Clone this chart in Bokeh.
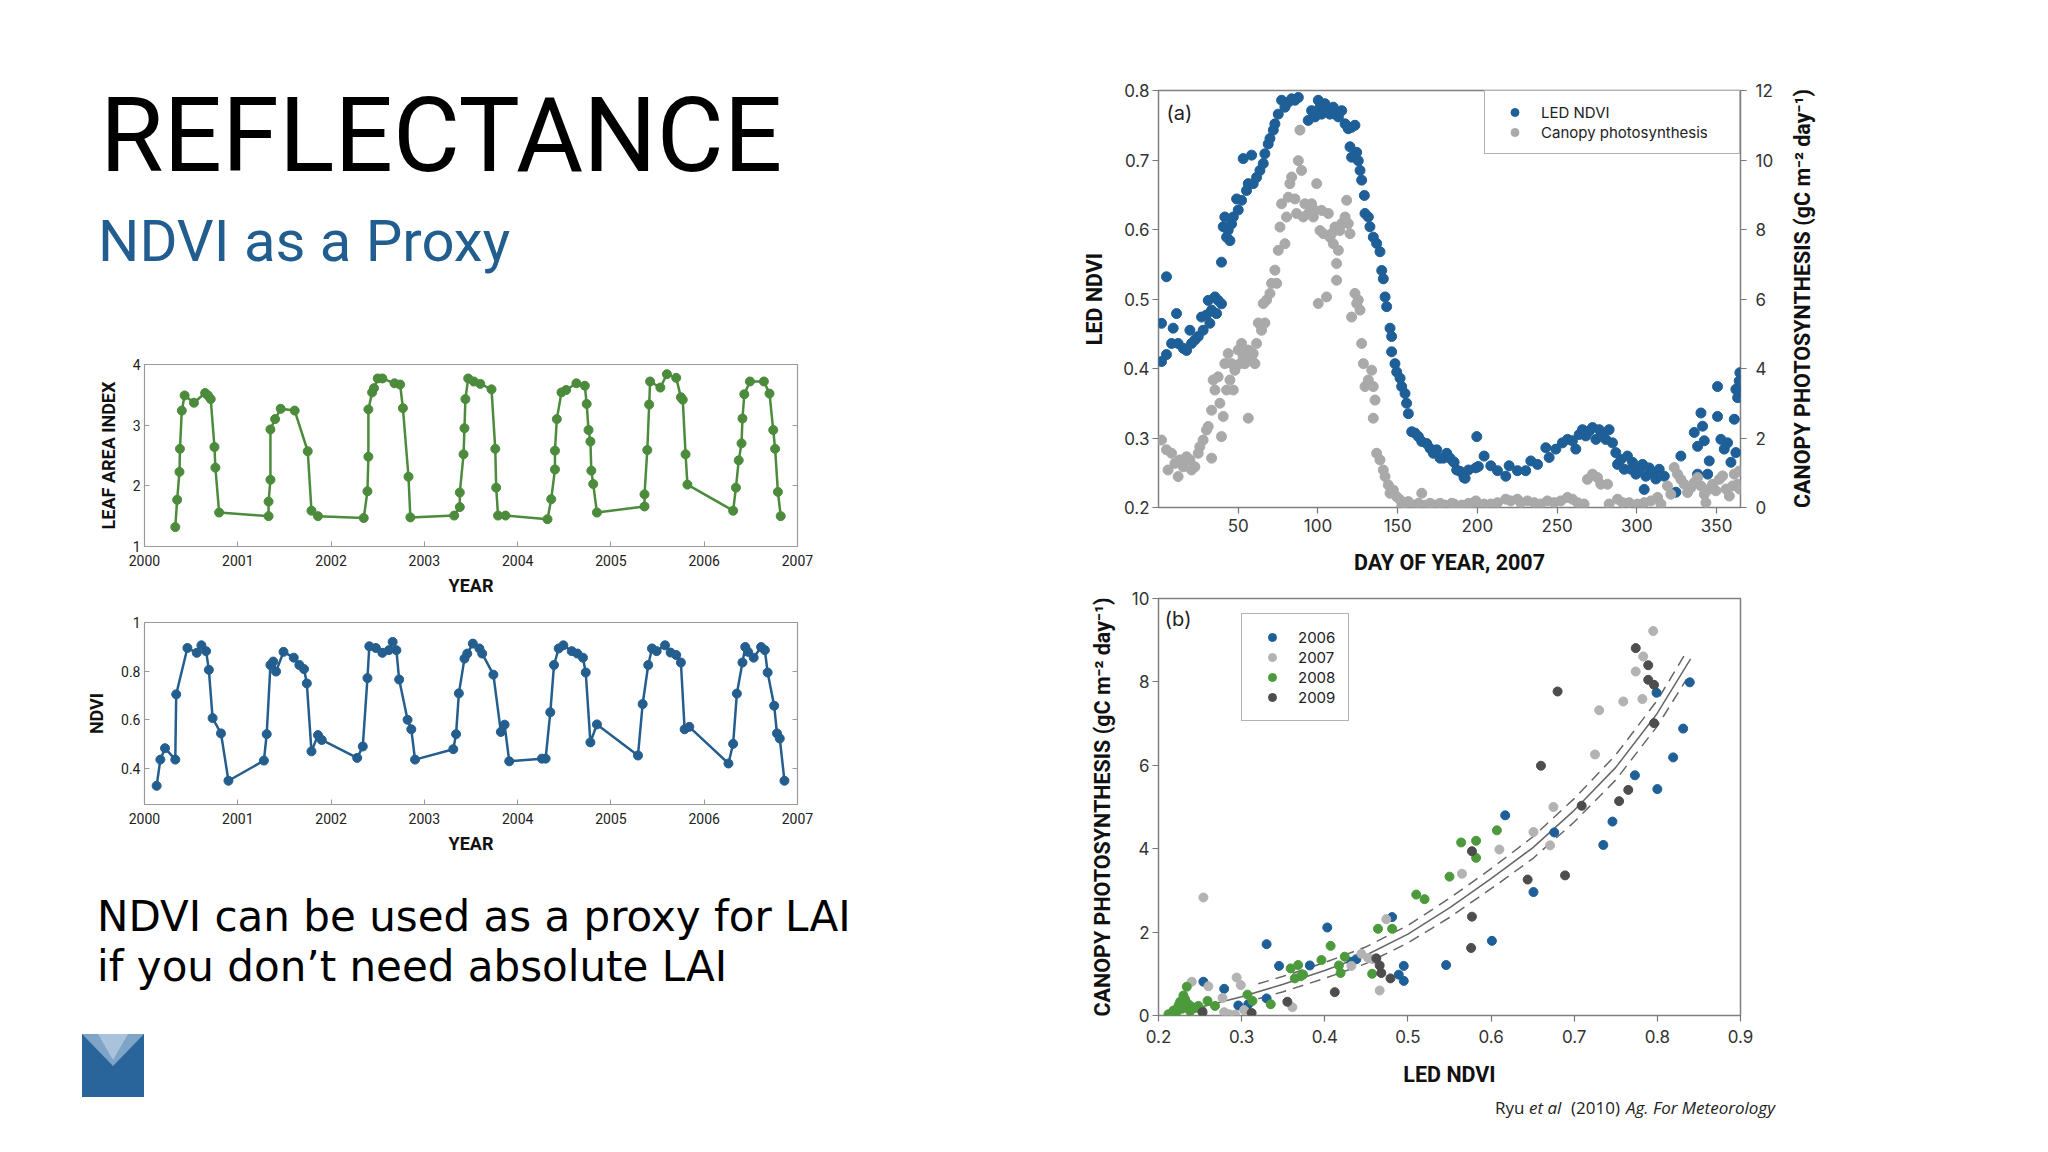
from bokeh.plotting import figure
from bokeh.models import (Range1d, LinearAxis, FixedTicker, Label, Legend, LegendItem,
                          CustomJSTickFormatter, Div)
from bokeh.layouts import column, row
from bokeh.embed import file_html
from bokeh.resources import INLINE

# ---------------------------------------------------------------- data
# MODIS-style time series, 2000-2007
lai_year = [2000.33, 2000.35, 2000.375, 2000.38, 2000.40, 2000.43, 2000.53, 2000.65, 2000.68, 2000.71, 2000.75, 2000.76, 2000.80,
            2001.33, 2001.33, 2001.35, 2001.35, 2001.40, 2001.46, 2001.61, 2001.75, 2001.79, 2001.86,
            2002.35, 2002.39, 2002.40, 2002.40, 2002.44, 2002.46, 2002.50, 2002.55, 2002.68, 2002.74, 2002.77, 2002.83, 2002.85,
            2003.32, 2003.38, 2003.38, 2003.42, 2003.43, 2003.44, 2003.47, 2003.53, 2003.60, 2003.72, 2003.76, 2003.77, 2003.79, 2003.87,
            2004.32, 2004.36, 2004.40, 2004.40, 2004.42, 2004.47, 2004.52, 2004.63, 2004.72, 2004.74, 2004.76, 2004.78, 2004.79, 2004.81, 2004.85,
            2005.36, 2005.36, 2005.39, 2005.41, 2005.42, 2005.53, 2005.60, 2005.70, 2005.75, 2005.77, 2005.80, 2005.82,
            2006.31, 2006.34, 2006.37, 2006.40, 2006.41, 2006.43, 2006.49, 2006.64, 2006.70, 2006.74, 2006.76, 2006.79, 2006.82]
lai_value = [1.32, 1.77, 2.23, 2.61, 3.24, 3.49, 3.37, 3.53, 3.49, 3.43, 2.64, 2.30, 1.56,
             1.50, 1.74, 2.10, 2.93, 3.10, 3.27, 3.24, 2.57, 1.59, 1.50,
             1.47, 1.91, 2.48, 3.26, 3.54, 3.61, 3.77, 3.77, 3.69, 3.67, 3.28, 2.15, 1.48,
             1.51, 1.65, 1.89, 2.52, 2.95, 3.43, 3.77, 3.72, 3.68, 3.59, 2.61, 1.97, 1.51, 1.51,
             1.45, 1.78, 2.27, 2.58, 3.10, 3.54, 3.58, 3.69, 3.65, 3.35, 2.92, 2.73, 2.25, 2.03, 1.56,
             1.66, 1.86, 2.59, 3.34, 3.72, 3.62, 3.84, 3.78, 3.46, 3.42, 2.52, 2.02,
             1.59, 1.97, 2.42, 2.70, 3.11, 3.51, 3.72, 3.72, 3.52, 2.92, 2.61, 1.90, 1.50]

ndvi_year = [2000.13, 2000.17, 2000.22, 2000.33, 2000.34, 2000.46, 2000.56, 2000.61, 2000.66, 2000.69, 2000.73, 2000.82, 2000.90,
             2001.28, 2001.31, 2001.35, 2001.38, 2001.41, 2001.49, 2001.60, 2001.66, 2001.71, 2001.74, 2001.79, 2001.86, 2001.90,
             2002.28, 2002.34, 2002.39, 2002.41, 2002.48, 2002.55, 2002.62, 2002.66, 2002.70, 2002.73, 2002.82, 2002.86, 2002.90,
             2003.31, 2003.34, 2003.37, 2003.43, 2003.46, 2003.52, 2003.59, 2003.62, 2003.74, 2003.82, 2003.86, 2003.91,
             2004.26, 2004.30, 2004.35, 2004.39, 2004.44, 2004.49, 2004.58, 2004.64, 2004.70, 2004.73, 2004.78, 2004.85,
             2005.29, 2005.34, 2005.40, 2005.44, 2005.49, 2005.58, 2005.64, 2005.70, 2005.75, 2005.79, 2005.84,
             2006.26, 2006.31, 2006.35, 2006.41, 2006.44, 2006.47, 2006.53, 2006.61, 2006.65, 2006.68, 2006.75, 2006.78, 2006.81, 2006.86]
ndvi_value = [0.327, 0.435, 0.482, 0.435, 0.704, 0.895, 0.875, 0.906, 0.882, 0.805, 0.606, 0.543, 0.348,
              0.431, 0.540, 0.825, 0.839, 0.798, 0.879, 0.855, 0.825, 0.808, 0.749, 0.469, 0.536, 0.516,
              0.442, 0.489, 0.771, 0.902, 0.895, 0.875, 0.886, 0.920, 0.886, 0.765, 0.599, 0.560, 0.435,
              0.478, 0.540, 0.708, 0.851, 0.872, 0.913, 0.893, 0.872, 0.785, 0.549, 0.579, 0.428,
              0.439, 0.439, 0.630, 0.825, 0.893, 0.906, 0.882, 0.872, 0.855, 0.794, 0.506, 0.580,
              0.452, 0.664, 0.825, 0.893, 0.882, 0.906, 0.876, 0.866, 0.835, 0.560, 0.570,
              0.419, 0.500, 0.707, 0.835, 0.899, 0.879, 0.855, 0.899, 0.886, 0.794, 0.657, 0.543, 0.522, 0.348]

year_ticks = [2000, 2001, 2002, 2003, 2004, 2005, 2006, 2007]
lai_ticks = [1, 2, 3, 4]
ndvi_ticks = [0.4, 0.6, 0.8, 1.0]

# (a) daily LED NDVI and canopy photosynthesis, 2007
led_day = [1.9, 1.9, 5, 5, 8.2, 9.2, 11.3, 12.3, 15.5, 17.6,
           19.7, 20.7, 22.8, 24.9, 27, 28, 30.1, 31.2, 32.2, 33.3,
           35.4, 36.4, 37.4, 39.5, 39.5, 40.6, 41.6, 42.7, 43.7, 44.8,
           45.8, 46.9, 49, 50, 52.1, 53.1, 55.2, 56.3, 58.4, 59.4,
           61.5, 63.6, 65.7, 66.7, 68.8, 69.9, 72, 73, 75.1, 77.2,
           79.3, 81.4, 83.5, 85.6, 87.7, 93.9, 96, 98.1, 100.2, 101.3,
           102.3, 104.4, 105.4, 107.5, 109.6, 110.7, 112.8, 114.9, 117, 119,
           121.1, 123.2, 120.1, 121.1, 124.3, 125.3, 126.4, 127.4, 129.1, 129.5,
           131.6, 132.6, 134.7, 136.8, 138.9, 140, 141, 142.1, 143.1, 145.2,
           146.2, 146.2, 148.3, 149.4, 151.5, 152.5, 154.6, 155.6, 156.7, 158.8,
           160.9, 163, 165.1, 168.2, 170.3, 172.4, 174.5, 176.6, 178.7, 180.8,
           182.8, 184.9, 187, 189.1, 192.3, 194.4, 199.6, 200.6,
           185.4, 191.6, 199, 204.2, 208.4, 212.6, 217.8, 219.9, 225.1, 230.3,
           233.5, 237.7, 242.9, 245, 249.2, 253.3, 256.5, 259.6, 261.7, 263.8,
           265.9, 268, 270.1, 272.2, 274.3, 276.4, 278.5, 280.5, 282.6, 284.7,
           286.8, 287.9, 290, 292.1, 294.1, 296.2, 297.3, 299.4, 301.5, 303.6,
           305.6, 307.7, 309.8, 304.6, 311.9, 314, 317.2, 324.5, 327.6, 336,
           338.1, 340.2, 341.2, 342.3, 338.1, 344.4, 345.4, 350.6, 350.6, 352.7,
           354.8, 356.9, 359, 361.1, 362.1, 362.1, 363.2, 364.2, 364.6, 364.3]
led_ndvi = [.410, .465, .532, .420, .436, .458, .479, .436, .429, .426,
            .455, .436, .441, .446, .474, .455, .477, .498, .465, .484,
            .503, .479, .498, .493, .553, .604, .618, .589, .599, .584,
            .608, .618, .644, .628, .642, .702, .656, .666, .707, .666,
            .675, .685, .695, .709, .723, .731, .743, .752, .766, .786,
            .776, .783, .788, .786, .790, .757, .771, .762, .786, .776,
            .766, .781, .771, .766, .776, .766, .762, .771, .752, .745,
            .747, .750, .719, .704, .711, .699, .685, .671, .649, .623,
            .618, .604, .589, .580, .568, .541, .529, .503, .489, .458,
            .446, .424, .407, .395, .386, .374, .364, .350, .335, .309,
            .307, .302, .295, .292, .285, .278, .283, .271, .271, .278,
            .271, .266, .254, .252, .242, .254, .302, .259,
            .265, .243, .257, .274, .260, .253, .245, .260, .253, .253,
            .267, .262, .286, .272, .284, .293, .298, .296, .284, .305,
            .312, .303, .310, .315, .298, .312, .305, .298, .312, .293,
            .279, .262, .269, .255, .274, .255, .265, .248, .255, .262,
            .245, .257, .250, .226, .241, .255, .245, .222, .274, .308,
            .288, .336, .317, .296, .248, .248, .267, .374, .331, .298,
            .284, .293, .265, .327, .279, .370, .358, .382, .394, .367]

gpp_day = [1.9, 5, 6, 8.2, 10.3, 12.3, 13.4, 15.5, 17.6, 19.7,
           20.7, 22.8, 24.9, 25.9, 28, 30.1, 33.3, 31.2, 33.3, 34.3,
           35.4, 37.4, 38.5, 39.5, 40.6, 41.6, 42.7, 43.7, 44.8, 45.8,
           46.9, 47.9, 50, 51, 52.1, 53.1, 54.2, 56.3, 56.3, 58.4,
           59.4, 60.5, 61.5, 62.6, 64.6, 65.7, 66.7, 67.8, 69.9, 70.9,
           73, 74.1, 75.1, 76.2, 77.2, 79.3, 80.3, 81.4, 82.4, 83.5,
           85.6, 86.6, 87.7, 88.7, 89.7, 90.8, 91.8, 93.9, 95, 96,
           97.1, 98.1, 99.2, 100.2, 101.3, 102.3, 103.4, 105.4, 106.5, 107.5,
           108.6, 109.6, 110.7, 111.7, 111.7, 112.8, 113.8, 114.9, 117, 118,
           119, 120.1, 121.1, 123.2, 124.3, 125.3, 126.4, 127.4, 128.5, 129.5,
           131.6, 133.7, 134.7, 135.8, 134.7, 136.8, 138.9, 141, 142.1, 144.1,
           145.2, 147.3, 149.4, 151.5, 152.5, 154.6, 156.7, 159.8, 163, 165.1,
           167.2, 170.3, 173.4, 176.6, 179.7, 183.9, 186, 190.2, 194.4, 198.5,
           185.4, 191.6, 199, 204.2, 208.4, 212.6, 217.8, 220.9, 225.1, 227.2,
           231.4, 235.6, 239.7, 243.9, 248.1, 252.3, 256.5, 259.6, 262.8, 266.9,
           269, 272.2, 275.3, 277.4, 281.6, 282.6, 287.9, 291, 295.2, 300.4,
           304.6, 308.8, 313, 315.1, 319.2, 321.3, 323.4, 325.5, 327.6, 329.7,
           331.8, 333.9, 336, 338.1, 340.2, 342.3, 343.3, 345.4, 347.5, 349.6,
           351.7, 353.8, 355.9, 358, 360, 361.1, 363.2, 364.2, 364.5]
gpp_value = [1.94, 1.66, 1.08, 1.56, 1.27, 0.89, 1.37, 1.17, 1.46, 1.37,
             1.08, 1.17, 1.56, 1.75, 1.94, 2.23, 1.42, 2.33, 2.80, 3.67,
             3.38, 3.76, 3.00, 2.04, 2.62, 4.14, 3.38, 4.43, 3.67, 4.14,
             3.38, 3.95, 4.53, 4.14, 4.72, 4.34, 4.14, 2.57, 4.53, 4.34,
             4.43, 4.14, 4.72, 5.31, 5.10, 5.87, 5.31, 5.97, 6.16, 6.45,
             6.83, 6.45, 7.40, 8.07, 8.74, 7.59, 8.36, 8.93, 9.32, 9.51,
             8.88, 8.46, 9.98, 10.86, 9.70, 8.36, 8.74, 8.46, 8.65, 8.74,
             8.36, 8.55, 9.32, 5.87, 7.97, 8.55, 7.88, 6.06, 8.46, 7.78,
             7.88, 7.59, 8.07, 7.02, 6.54, 7.40, 7.97, 8.17, 8.36, 8.84,
             8.17, 7.88, 5.48, 6.16, 5.87, 5.97, 5.68, 4.72, 4.14, 3.48,
             3.67, 3.95, 3.48, 3.09, 2.57, 1.56, 1.37, 1.08, 0.89, 0.65,
             0.41, 0.50, 0.31, 0.22, 0.03, 0.12, 0.17, 0.07, 0.12, 0.41,
             0.07, 0.12, 0.07, 0.12, 0.07, 0.12, 0.03, 0.07, 0.12, 0.07,
             0.10, 0.05, 0.19, 0.10, 0.10, 0.14, 0.24, 0.19, 0.24, 0.14,
             0.19, 0.14, 0.10, 0.19, 0.14, 0.19, 0.29, 0.24, 0.14, 0.10,
             0.81, 0.96, 0.86, 0.67, 0.67, 0.10, 0.24, 0.14, 0.14, 0.10,
             0.14, 0.19, 0.29, 0.10, 0.62, 0.38, 1.15, 0.96, 0.81, 0.67,
             0.43, 0.57, 0.72, 0.86, 0.62, 0.38, 0.14, 0.53, 0.67, 0.48,
             0.81, 0.91, 0.53, 0.33, 0.62, 0.96, 0.67, 1.05, 0.53]

doy_ticks = [50, 100, 150, 200, 250, 300, 350]
led_ticks = [0.2, 0.3, 0.4, 0.5, 0.6, 0.7, 0.8]
gpp_ticks = [0, 2, 4, 6, 8, 10, 12]

# (b) canopy photosynthesis against LED NDVI, by year
y2006_ndvi = [0.254, 0.279, 0.296, 0.308, 0.330, 0.330, 0.345, 0.382, 0.403, 0.432, 0.438, 0.481, 0.489, 0.495,
              0.495, 0.546, 0.601, 0.617, 0.651, 0.676, 0.735, 0.746, 0.773, 0.800, 0.819, 0.831, 0.799, 0.839]
y2006_gpp = [0.81, 0.64, 0.24, 0.27, 1.71, 0.41, 1.19, 1.20, 2.11, 1.29, 1.35, 2.36, 0.98, 1.19,
             0.83, 1.21, 1.79, 4.80, 2.96, 4.39, 4.09, 4.65, 5.76, 5.43, 6.19, 6.88, 7.74, 7.99]
y2007_ndvi = [0.240, 0.254, 0.260, 0.277, 0.279, 0.285, 0.294, 0.299, 0.303, 0.361, 0.432, 0.444, 0.452, 0.458, 0.466,
              0.474, 0.565, 0.610, 0.651, 0.671, 0.675, 0.725, 0.730, 0.759, 0.774, 0.782, 0.783, 0.795, 0.292]
y2007_gpp = [0.81, 2.83, 0.70, 0.42, 0.08, 0.03, 0.91, 0.73, 0.13, 0.20, 1.19, 1.48, 1.38, 1.35, 0.60,
             2.31, 3.40, 3.98, 4.40, 4.08, 5.00, 6.26, 7.32, 7.53, 8.25, 7.59, 8.61, 9.22, 0.02]
y2008_ndvi = [0.212, 0.218, 0.221, 0.224, 0.226, 0.228, 0.230, 0.232, 0.234, 0.236,
              0.238, 0.240, 0.244, 0.248, 0.252, 0.259, 0.268, 0.307, 0.313, 0.335,
              0.359, 0.364, 0.368, 0.371, 0.374, 0.396, 0.407, 0.417, 0.419, 0.424,
              0.457, 0.464, 0.481, 0.510, 0.520, 0.550, 0.564, 0.582, 0.582, 0.607]
y2008_gpp = [0.03, 0.12, 0.06, 0.24, 0.33, 0.16, 0.48, 0.39, 0.69, 0.27,
             0.10, 0.21, 0.18, 0.23, 0.12, 0.35, 0.23, 0.50, 0.35, 0.27,
             1.13, 0.89, 1.21, 0.94, 0.98, 1.33, 1.67, 1.20, 1.02, 1.41,
             1.00, 2.08, 2.08, 2.90, 2.79, 3.33, 4.15, 4.19, 3.78, 4.44]
y2009_ndvi = [0.253, 0.312, 0.355, 0.412, 0.462, 0.466, 0.468, 0.479, 0.577, 0.577, 0.576, 0.644,
              0.660, 0.680, 0.689, 0.709, 0.754, 0.765, 0.774, 0.789, 0.789, 0.796, 0.796]
y2009_gpp = [0.08, 0.06, 0.33, 0.56, 1.37, 1.20, 1.02, 0.89, 3.94, 2.37, 1.62, 3.26,
             5.99, 7.77, 3.36, 5.03, 5.14, 5.41, 8.81, 8.40, 8.05, 7.93, 7.01]

fit_ndvi = [0.21, 0.25, 0.30, 0.35, 0.40, 0.45, 0.50, 0.55, 0.60, 0.65, 0.70, 0.75, 0.80, 0.84]
fit_gpp = [0.04, 0.20, 0.45, 0.75, 1.08, 1.45, 1.95, 2.58, 3.28, 4.02, 4.92, 5.95, 7.25, 8.55]
band_ndvi = [0.32, 0.35, 0.40, 0.45, 0.50, 0.55, 0.60, 0.65, 0.70, 0.75, 0.80, 0.835]
band_upper = [0.76, 0.94, 1.27, 1.65, 2.16, 2.81, 3.52, 4.28, 5.20, 6.25, 7.56, 8.72]
band_lower = [0.40, 0.57, 0.89, 1.25, 1.74, 2.35, 3.04, 3.76, 4.64, 5.65, 6.94, 8.06]

b_x_ticks = [0.2, 0.3, 0.4, 0.5, 0.6, 0.7, 0.8, 0.9]
b_y_ticks = [0, 2, 4, 6, 8, 10]

# ---------------------------------------------------------------- slide text
TITLE = "REFLECTANCE"
SUBTITLE = "NDVI as a Proxy"
BODY_LINES = ["NDVI can be used as a proxy for LAI", "if you don\u2019t need absolute LAI"]
GPP_LABEL = "CANOPY PHOTOSYNTHESIS (gC m\u207b\u00b2 day\u207b\u00b9)"

# ---------------------------------------------------------------- style
HEAD = "Roboto"
BODY = "DejaVu Sans"
CITE = "Open Sans"
TICK = "Inter"
AXIS_TITLE_SIZE = "21.5px"
GREEN = "#4b8b3b"
NAVY = "#245e8f"
BLUE = "#1f5f98"
LGRAY = "#a9a9a9"
C2006, C2007, C2008, C2009 = "#1f5f98", "#b3b3b3", "#4c9a3c", "#4d4d4d"
ACCENT = "#215e8f"
LOGO = "#29659a"


def svg_block(w, h, body):
    return (f'<svg xmlns="http://www.w3.org/2000/svg" width="{w}" height="{h}" '
            f'style="display:block;overflow:visible">{body}</svg>')


def svg_text(x, y, txt, font, size, color, weight="normal", extra=""):
    return (f'<text x="{x}" y="{y}" {extra} style="font-family:\'{font}\';font-size:{size};'
            f'font-weight:{weight};fill:{color}">{txt}</text>')


def small_series(xs, ys, color, y0, y1, ticks, ylabel, fmt=None):
    p = figure(width=1000, height=258, x_range=Range1d(2000, 2007), y_range=Range1d(y0, y1),
               output_backend="svg", toolbar_location=None,
               min_border_left=144, min_border_right=203, min_border_top=24, min_border_bottom=50)
    p.background_fill_color = "white"
    p.border_fill_color = "white"
    p.line(xs, ys, line_color=color, line_width=2.5)
    p.scatter(xs, ys, size=9, fill_color=color, line_color=color)
    p.grid.visible = False
    p.outline_line_color = "#9a9a9a"
    p.outline_line_width = 1.2
    p.xaxis.ticker = FixedTicker(ticks=year_ticks)
    p.yaxis.ticker = FixedTicker(ticks=ticks)
    if fmt is not None:
        p.yaxis.formatter = fmt
    p.xaxis.axis_label = "YEAR"
    p.yaxis.axis_label = ylabel
    for ax in (p.xaxis[0], p.yaxis[0]):
        ax.axis_line_color = None
        ax.major_tick_in = 5
        ax.major_tick_out = 0
        ax.major_tick_line_color = "#9a9a9a"
        ax.minor_tick_line_color = None
        ax.major_label_text_font = HEAD
        ax.major_label_text_font_size = "14px"
        ax.major_label_text_color = "#222222"
        ax.axis_label_text_font = HEAD
        ax.axis_label_text_font_size = "18px"
        ax.axis_label_text_font_style = "bold"
        ax.axis_label_text_color = "#111111"
    p.xaxis.major_label_standoff = 8
    p.xaxis.axis_label_standoff = 6
    p.yaxis.major_label_standoff = 4
    p.yaxis.axis_label_standoff = 11
    # inward tick marks along the right edge of the box, without labels
    p.add_layout(LinearAxis(ticker=FixedTicker(ticks=ticks), axis_line_color=None,
                            major_tick_in=5, major_tick_out=0, major_tick_line_color="#9a9a9a",
                            minor_tick_line_color=None, major_label_text_color=None), "right")
    return p


def style_axis(ax, tick_standoff, label_standoff):
    ax.axis_line_color = None
    ax.major_tick_in = 0
    ax.major_tick_out = 6
    ax.major_tick_line_color = "#777777"
    ax.major_tick_line_width = 1.2
    ax.minor_tick_line_color = None
    ax.major_label_text_font = TICK
    ax.major_label_text_font_size = "17px"
    ax.major_label_text_color = "#333333"
    ax.major_label_standoff = tick_standoff
    ax.axis_label_text_font = HEAD
    ax.axis_label_text_font_size = AXIS_TITLE_SIZE
    ax.axis_label_text_font_style = "bold"
    ax.axis_label_text_color = "#111111"
    ax.axis_label_standoff = label_standoff


# ---------------------------------------------------------------- left column
header = Div(width=1000, height=340, margin=0, text=svg_block(1000, 340,
    svg_text(100, 171, TITLE, HEAD, "103px", "#000000") +
    svg_text(98, 261, SUBTITLE, HEAD, "58px", ACCENT)))

lai_fig = small_series(lai_year, lai_value, GREEN, 1, 4, lai_ticks, "LEAF AREA INDEX")
ndvi_fig = small_series(ndvi_year, ndvi_value, NAVY, 0.25, 1.0, ndvi_ticks, "NDVI",
                        fmt=CustomJSTickFormatter(code="return String(Math.round(tick * 10) / 10)"))

footer = Div(width=1000, height=296, margin=0, text=svg_block(1000, 296,
    svg_text(97, 75, BODY_LINES[0], BODY, "42px", "#000000") +
    svg_text(97, 125, BODY_LINES[1], BODY, "42px", "#000000") +
    f'<rect x="82" y="178" width="62" height="63" fill="{LOGO}"/>'
    f'<polygon points="82,178 144,178 113,210" fill="#7ea5c8"/>'
    f'<polygon points="98,178 128,178 113,204" fill="#a9c3dc"/>'))

# ---------------------------------------------------------------- (a) time series
pa = figure(width=790, height=577, x_range=Range1d(0, 365), y_range=Range1d(0.2, 0.8),
            output_backend="svg", toolbar_location=None,
            min_border_left=158, min_border_right=50, min_border_top=90, min_border_bottom=70)
pa.background_fill_color = "white"
pa.border_fill_color = "white"
pa.extra_y_ranges = {"gpp": Range1d(0, 12)}
pa.grid.visible = False
pa.outline_line_color = "#808080"
pa.outline_line_width = 1.5
r_led = pa.scatter(led_day, led_ndvi, size=10, fill_color=BLUE, line_color=BLUE)
r_gpp = pa.scatter(gpp_day, gpp_value, size=10, fill_color=LGRAY, line_color=LGRAY, y_range_name="gpp")
pa.xaxis.ticker = FixedTicker(ticks=doy_ticks)
pa.yaxis.ticker = FixedTicker(ticks=led_ticks)
pa.xaxis.axis_label = "DAY OF YEAR, 2007"
pa.yaxis.axis_label = "LED NDVI"
style_axis(pa.xaxis[0], 5, 15)
style_axis(pa.yaxis[0], 3, 13)
ra = LinearAxis(y_range_name="gpp", ticker=FixedTicker(ticks=gpp_ticks))
style_axis(ra, 9, 16)
pa.add_layout(ra, "right")
leg_a = Legend(items=[LegendItem(label="LED NDVI", renderers=[r_led]),
                      LegendItem(label="Canopy photosynthesis", renderers=[r_gpp])],
               location="top_right", margin=0, padding=11, spacing=0,
               glyph_width=37, glyph_height=20, label_height=20, label_width=187, label_standoff=8,
               label_text_font=TICK, label_text_font_size="15px", label_text_color="#222222",
               border_line_color="#666666", border_line_width=1.2, background_fill_alpha=1.0)
pa.add_layout(leg_a)
pa.add_layout(Label(x=5, y=0.768, text="(a)", text_font=TICK, text_font_size="20px",
                    text_color="#222222", text_baseline="middle"))

# title of the right-hand (photosynthesis) axis, set beside the plot and read upward
gpp_axis_title = Div(width=58, height=577, margin=0, text=svg_block(58, 577,
    svg_text(0, 0, GPP_LABEL, HEAD, AXIS_TITLE_SIZE, "#111111", weight="bold",
             extra='transform="translate(12,298.5) rotate(-90)" text-anchor="middle" '
                   'dominant-baseline="central"')))

# ---------------------------------------------------------------- (b) scatter with fit
pb = figure(width=790, height=515, x_range=Range1d(0.2, 0.9), y_range=Range1d(0, 10),
            output_backend="svg", toolbar_location=None,
            min_border_left=158, min_border_right=50, min_border_top=21, min_border_bottom=77)
pb.background_fill_color = "white"
pb.border_fill_color = "white"
pb.grid.visible = False
pb.outline_line_color = "#808080"
pb.outline_line_width = 1.5
pb.line(fit_ndvi, fit_gpp, line_color="#666666", line_width=1.5)
pb.line(band_ndvi, band_upper, line_color="#666666", line_width=1.5, line_dash="11 7")
pb.line(band_ndvi, band_lower, line_color="#666666", line_width=1.5, line_dash="11 7")
r06 = pb.scatter(y2006_ndvi, y2006_gpp, size=9, fill_color=C2006, line_color=C2006)
r07 = pb.scatter(y2007_ndvi, y2007_gpp, size=9, fill_color=C2007, line_color=C2007)
r08 = pb.scatter(y2008_ndvi, y2008_gpp, size=9, fill_color=C2008, line_color=C2008)
r09 = pb.scatter(y2009_ndvi, y2009_gpp, size=9, fill_color=C2009, line_color=C2009)
pb.xaxis.ticker = FixedTicker(ticks=b_x_ticks)
pb.yaxis.ticker = FixedTicker(ticks=b_y_ticks)
pb.xaxis.axis_label = "LED NDVI"
pb.yaxis.axis_label = GPP_LABEL
style_axis(pb.xaxis[0], 8, 16)
style_axis(pb.yaxis[0], 3, 14)
leg_b = Legend(items=[LegendItem(label="2006", renderers=[r06]), LegendItem(label="2007", renderers=[r07]),
                      LegendItem(label="2008", renderers=[r08]), LegendItem(label="2009", renderers=[r09])],
               location=(83, 294), margin=0, padding=13, spacing=0,
               glyph_width=34, glyph_height=20, label_height=20, label_width=37, label_standoff=9,
               label_text_font=TICK, label_text_font_size="15px", label_text_color="#222222",
               border_line_color="#666666", border_line_width=1.2, background_fill_alpha=1.0)
pb.add_layout(leg_b)
pb.add_layout(Label(x=0.2076, y=9.5, text="(b)", text_font=TICK, text_font_size="20px",
                    text_color="#222222", text_baseline="middle"))

# ---------------------------------------------------------------- citation
cite = Div(width=848, height=60, margin=0, text=svg_block(848, 60,
    f'<text y="22" style="font-family:\'{CITE}\';font-size:17px;fill:#222222">'
    f'<tspan x="495">Ryu</tspan>'
    f'<tspan x="529" style="font-style:italic">et al</tspan>'
    f'<tspan x="571">(2010)</tspan>'
    f'<tspan x="626" style="font-style:italic">Ag. For Meteorology</tspan></text>'))

page = row(column(header, lai_fig, ndvi_fig, footer),
           column(row(pa, gpp_axis_title), pb, cite))

with open("out.html", "w", encoding="utf-8") as f:
    f.write(file_html(page, INLINE, title="Reflectance"))
